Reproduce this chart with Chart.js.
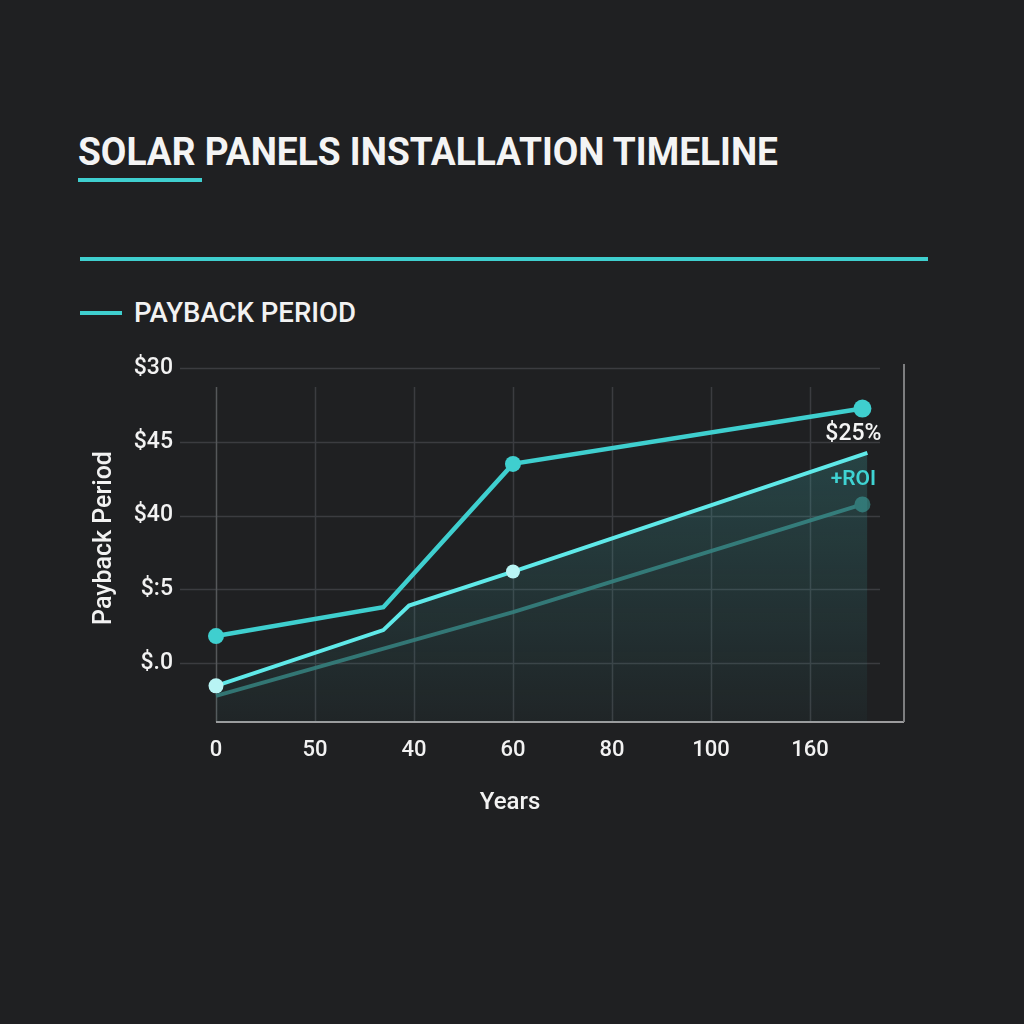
<!DOCTYPE html>
<html>
<head>
<meta charset="utf-8">
<script src="https://cdn.jsdelivr.net/npm/chart.js"></script>
<style>
  html, body { margin: 0; padding: 0; background: #1f2022; }
  body { width: 1024px; height: 1024px; position: relative; overflow: hidden; font-family: Roboto, "Noto Sans", sans-serif; }
  #title { position: absolute; left: 78px; top: 130px; color: #f4f4f4; font-size: 38px; font-weight: 700; white-space: nowrap; letter-spacing: 0px; transform-origin: 0 0; }
  .bar { position: absolute; background: #3fcfcf; }
  #legendText { position: absolute; left: 134px; top: 297px; color: #f2f2f2; font-size: 27px; font-weight: 500; white-space: nowrap; transform-origin: 0 0; }
  #wrap { position: absolute; left: 0; top: 0; width: 1024px; height: 1024px; }
</style>
</head>
<body>
<div id="title">SOLAR PANELS INSTALLATION TIMELINE</div>
<div class="bar" style="left:78px; top:178px; width:124px; height:4px;"></div>
<div class="bar" style="left:80px; top:257px; width:848px; height:4px;"></div>
<div class="bar" style="left:80px; top:311px; width:42px; height:4px;"></div>
<div id="legendText">PAYBACK PERIOD</div>
<div id="wrap"><canvas id="c" width="1024" height="1024"></canvas></div>
<script>
// ---- data ----
const xLabels = ['0', '50', '40', '60', '80', '100', '160'];
const yLabels = ['$.0', '$:5', '$40', '$45', '$30'];
const paybackX = [0, 1.69, 3, 6.53];
const paybackY = [0.365, 0.757, 2.70, 3.45];
const roiX = [0, 1.69, 1.95, 3, 6.58];
const roiY = [-0.31, 0.446, 0.78, 1.24, 2.85];
const baseX = [0, 3, 6.53];
const baseY = [-0.446, 0.69, 2.15];
const endLabels = ['$25%', '+ROI'];
const xTitle = 'Years';
const yTitle = 'Payback Period';

const pts = (xs, ys) => xs.map((x, i) => ({x, y: ys[i]}));

const gridPlugin = {
  id: 'customGrid',
  beforeDatasetsDraw(chart) {
    const {ctx, scales: {x, y}, chartArea: a} = chart;
    ctx.save();
    ctx.lineWidth = 1.5;
    ctx.strokeStyle = '#3b3c40';
    y.ticks.forEach(t => {
      const py = Math.round(y.getPixelForValue(t.value)) + 0.5;
      ctx.beginPath(); ctx.moveTo(a.left - 36, py); ctx.lineTo(a.right - 24, py); ctx.stroke();
    });
    x.ticks.forEach(t => {
      const px = Math.round(x.getPixelForValue(t.value)) + 0.5;
      ctx.strokeStyle = t.value === 0 ? '#55575a' : '#3b3c40';
      ctx.beginPath(); ctx.moveTo(px, a.top + 19); ctx.lineTo(px, a.bottom); ctx.stroke();
    });
    ctx.lineWidth = 2;
    ctx.strokeStyle = '#9c9c9e';
    ctx.beginPath(); ctx.moveTo(a.left, a.bottom); ctx.lineTo(a.right, a.bottom); ctx.stroke();
    ctx.strokeStyle = '#7d7e80';
    ctx.beginPath(); ctx.moveTo(a.right, a.top - 4); ctx.lineTo(a.right, a.bottom); ctx.stroke();
    ctx.restore();
  },
  afterDatasetsDraw(chart) {
    const {ctx, scales: {x, y}, chartArea: a} = chart;
    const px = x.getPixelForValue(paybackX[paybackX.length - 1]) - 9;
    const py = y.getPixelForValue(paybackY[paybackY.length - 1]);
    ctx.save();
    ctx.textAlign = 'center';
    ctx.textBaseline = 'middle';
    ctx.font = '500 23px Roboto';
    ctx.fillStyle = '#f4f4f4';
    ctx.fillText(endLabels[0], px, py + 26);
    ctx.font = '600 21px Roboto';
    ctx.fillStyle = '#3fd3d3';
    ctx.fillText(endLabels[1], px, py + 71);
    // axis titles
    ctx.fillStyle = '#f2f2f2';
    ctx.font = '500 24px Roboto';
    ctx.fillText(xTitle, x.getPixelForValue(2.97), a.bottom + 81);
    ctx.translate(105, 538);
    ctx.rotate(-Math.PI / 2);
    ctx.font = '500 25px Roboto';
    ctx.fillText(yTitle, 0, 0);
    ctx.restore();
  }
};

const ctx = document.getElementById('c').getContext('2d');
const grad = ctx.createLinearGradient(0, 450, 0, 722);
grad.addColorStop(0, 'rgba(62,170,170,0.26)');
grad.addColorStop(1, 'rgba(62,170,170,0.04)');

new Chart(ctx, {
  type: 'line',
  data: {
    datasets: [
      {
        data: pts(paybackX, paybackY),
        borderColor: '#3fcfcf', borderWidth: 4.5,
        pointRadius: [8, 0, 8, 9], pointBackgroundColor: '#3fcfcf', pointBorderWidth: 0,
        fill: false, tension: 0, clip: false
      },
      {
        data: pts(roiX, roiY),
        borderColor: '#5fe9e9', borderWidth: 4,
        pointRadius: [7.5, 0, 0, 7, 0], pointBackgroundColor: '#b8f4f4', pointBorderWidth: 0,
        fill: 'start', backgroundColor: grad, tension: 0, clip: false
      },
      {
        data: pts(baseX, baseY),
        borderColor: 'rgba(52,122,120,0.9)', borderWidth: 4,
        pointRadius: [0, 0, 8], pointBackgroundColor: '#2f6a68', pointBorderWidth: 0,
        fill: false, tension: 0, clip: false
      }
    ]
  },
  options: {
    responsive: false,
    animation: false,
    events: [],
    layout: { padding: { left: 0, top: 368, right: 120, bottom: 202 } },
    plugins: { legend: { display: false }, tooltip: { enabled: false } },
    scales: {
      x: {
        type: 'linear', min: 0, max: 6.95,
        afterBuildTicks: s => { s.ticks = xLabels.map((_, i) => ({ value: i })); },
        afterFit: s => { s.height = 100; },
        grid: { display: false, drawTicks: false },
        border: { display: false },
        ticks: { color: '#f2f2f2', font: { family: 'Roboto', size: 22, weight: '500' }, padding: 15, maxRotation: 0, autoSkip: false,
                 callback: v => xLabels[v] }
      },
      y: {
        type: 'linear', min: -0.8, max: 4,
        afterBuildTicks: s => { s.ticks = yLabels.map((_, i) => ({ value: i })); },
        afterFit: s => { s.width = 216; },
        grid: { display: false, drawTicks: false },
        border: { display: false },
        ticks: { color: '#f2f2f2', font: { family: 'Roboto', size: 23, weight: '500' }, padding: 43, autoSkip: false,
                 callback: v => yLabels[v] }
      }
    }
  },
  plugins: [gridPlugin]
});

// fit title widths to the reference
const t = document.getElementById('title');
t.style.transform = 'scaleX(' + (700 / t.getBoundingClientRect().width) + ')';
const l = document.getElementById('legendText');
l.style.transform = 'scaleX(' + (222 / l.getBoundingClientRect().width) + ')';
</script>
</body>
</html>
